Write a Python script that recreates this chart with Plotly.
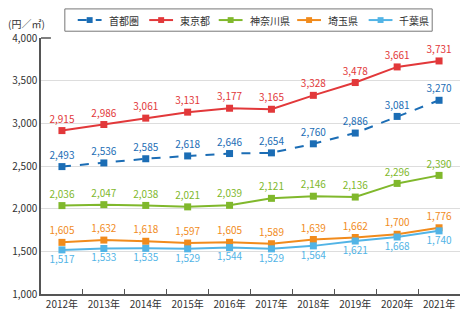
import plotly.graph_objects as go

years = ["2012年", "2013年", "2014年", "2015年", "2016年", "2017年", "2018年", "2019年", "2020年", "2021年"]
shutoken = [2493, 2536, 2585, 2618, 2646, 2654, 2760, 2886, 3081, 3270]
tokyo = [2915, 2986, 3061, 3131, 3177, 3165, 3328, 3478, 3661, 3731]
kanagawa = [2036, 2047, 2038, 2021, 2039, 2121, 2146, 2136, 2296, 2390]
saitama = [1605, 1632, 1618, 1597, 1605, 1589, 1639, 1662, 1700, 1776]
chiba = [1517, 1533, 1535, 1529, 1544, 1529, 1564, 1621, 1668, 1740]
grid_vals = [1500, 2000, 2500, 3000, 3500]

series = [
    ("首都圏", shutoken, "#1b6db5", "dash", "top center"),
    ("東京都", tokyo, "#e2383a", "solid", "top center"),
    ("神奈川県", kanagawa, "#80b82c", "solid", "top center"),
    ("埼玉県", saitama, "#f18b1c", "solid", "top center"),
    ("千葉県", chiba, "#52b4e6", "solid", "bottom center"),
]

FONT = "Noto Sans CJK JP"
W, H = 474, 323
ML, MR, MT, MB = 38, 14, 38, 21
PW, PH = W - ML - MR, H - MT - MB

def px(x):
    return (x - ML) / PW

def py(y):
    return (H - MB - y) / PH

fig = go.Figure()
for name, vals, color, dash, tpos in series:
    fig.add_trace(go.Scatter(
        x=years, y=vals, name=name, mode="lines+markers+text",
        line=dict(color=color, width=2, dash=dash),
        marker=dict(symbol="square", size=7, color=color),
        text=[f"{v:,}" for v in vals], textposition=tpos,
        textfont=dict(color=color, size=10, family=FONT),
        cliponaxis=False, showlegend=False,
    ))

# custom legend (box, line samples, labels)
shapes = [dict(type="rect", xref="paper", yref="paper",
               x0=px(62), x1=px(432), y0=py(31), y1=py(8),
               line=dict(color="#777777", width=1), fillcolor="white")]
# short cap at the top of the y axis
shapes.append(dict(type="line", xref="paper", yref="paper",
                   x0=0, x1=px(48), y0=1, y1=1,
                   line=dict(color="#555555", width=1.5)))
annotations = []
leg_x = [75, 147, 217, 296, 368]
leg_len = 24
leg_y = 19.5
for (name, vals, color, dash, tpos), lx in zip(series, leg_x):
    shapes.append(dict(type="line", xref="paper", yref="paper",
                       x0=px(lx), x1=px(lx + leg_len), y0=py(leg_y), y1=py(leg_y),
                       line=dict(color=color, width=2, dash="dash" if dash == "dash" else "solid")))
    cx = lx + leg_len / 2
    shapes.append(dict(type="rect", xref="paper", yref="paper",
                       x0=px(cx - 3), x1=px(cx + 3), y0=py(leg_y + 3), y1=py(leg_y - 3),
                       line=dict(width=0), fillcolor=color))
    annotations.append(dict(text=name, xref="paper", yref="paper",
                            x=px(lx + leg_len + 5), y=py(leg_y), xanchor="left", yanchor="middle",
                            showarrow=False, font=dict(size=10, color="#333333", family=FONT)))

annotations.append(dict(
    text="(円／㎡)", xref="paper", yref="paper", x=-0.083, y=1.02,
    xanchor="left", yanchor="bottom", showarrow=False,
    font=dict(size=10, color="#333333", family=FONT),
))

fig.update_layout(
    width=W, height=H,
    margin=dict(l=ML, r=MR, t=MT, b=MB),
    paper_bgcolor="white", plot_bgcolor="white",
    font=dict(family=FONT, size=10, color="#333333"),
    showlegend=False,
    xaxis=dict(
        type="category", range=[-0.5, 9.5], showgrid=False,
        showline=True, linecolor="#555555", linewidth=1.5,
        ticks="inside", tickson="boundaries", ticklen=5, tickcolor="#555555",
        tickfont=dict(size=10, color="#333333"),
    ),
    yaxis=dict(
        range=[1000, 4000], dtick=500, tickformat=",",
        showgrid=False,
        minor=dict(tickmode="array", tickvals=grid_vals, showgrid=True,
                   gridcolor="#dddddd", gridwidth=1, ticks=""),
        showline=True, linecolor="#555555", linewidth=1.5,
        zeroline=False, tickfont=dict(size=10, color="#333333"),
    ),
    shapes=shapes,
    annotations=annotations,
)

fig.write_html("out.html")
